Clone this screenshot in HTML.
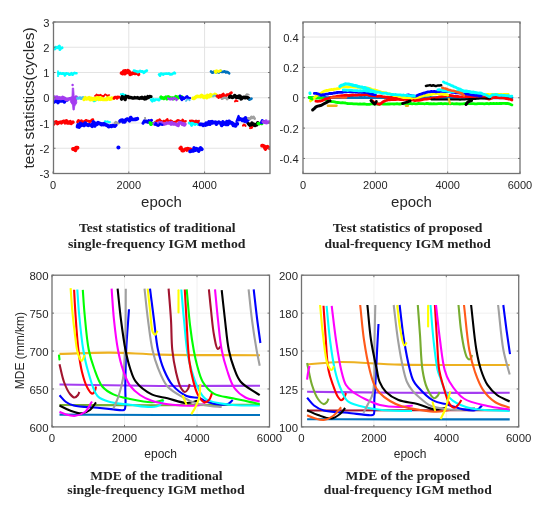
<!DOCTYPE html>
<html><head><meta charset="utf-8"><style>
html,body{margin:0;padding:0;background:#fff;width:550px;height:505px;overflow:hidden}
svg{display:block;will-change:transform}
</style></head><body>
<svg width="550" height="505" viewBox="0 0 550 505">
<rect width="550" height="505" fill="#fff"/>
<line x1="128.8" y1="22" x2="128.8" y2="173.5" stroke="#e3e3e3" stroke-width="1"/>
<line x1="204.6" y1="22" x2="204.6" y2="173.5" stroke="#e3e3e3" stroke-width="1"/>
<line x1="53.5" y1="47.25" x2="270" y2="47.25" stroke="#e3e3e3" stroke-width="1"/>
<line x1="53.5" y1="72.5" x2="270" y2="72.5" stroke="#e3e3e3" stroke-width="1"/>
<line x1="53.5" y1="97.75" x2="270" y2="97.75" stroke="#e3e3e3" stroke-width="1"/>
<line x1="53.5" y1="123.0" x2="270" y2="123.0" stroke="#e3e3e3" stroke-width="1"/>
<line x1="53.5" y1="148.25" x2="270" y2="148.25" stroke="#e3e3e3" stroke-width="1"/>
<clipPath id="c1"><rect x="53.5" y="22" width="216.5" height="151.5"/></clipPath>
<g clip-path="url(#c1)">
<polyline points="54.0,48.6 54.7,48.9 55.6,47.3 56.5,47.5 57.2,47.7 57.9,47.3 59.3,46.1 59.9,49.4 60.8,48.2 62.0,47.9" fill="none" stroke="#00ffff" stroke-width="3.0" stroke-linecap="round" stroke-linejoin="round"/>
<polyline points="58.5,73.2 59.2,73.8 59.9,73.0 61.0,73.6 61.8,73.6 62.9,73.4 64.2,73.6 64.9,75.5 66.1,73.3 67.2,73.8 68.3,73.6 69.4,74.8 70.3,74.6 71.4,73.2 72.6,74.7 73.4,73.4 74.6,72.9 75.3,73.3 76.5,73.3" fill="none" stroke="#00ffff" stroke-width="2.6" stroke-linecap="round" stroke-linejoin="round"/>
<line x1="58" y1="70.5" x2="58" y2="77" stroke="#00ffff" stroke-width="1.6"/>
<polyline points="121.5,73.1 122.5,73.5 123.8,71.2 124.7,73.7 125.4,70.9 126.2,71.2 127.0,72.5 127.9,70.6 129.1,71.7 130.2,74.4 131.4,73.9 132.6,73.0 133.8,73.1 134.4,73.3 135.0,73.5 135.8,72.8 137.1,73.3 137.8,72.7 138.5,74.2" fill="none" stroke="#ff0000" stroke-width="3.7" stroke-linecap="round" stroke-linejoin="round"/>
<polyline points="134.0,70.7 134.7,70.8 135.5,71.2 136.9,71.3 137.6,72.1 139.0,71.7 140.1,71.0 141.3,71.6 142.6,71.3 143.9,72.8 145.2,71.5 146.2,70.9 146.8,70.7" fill="none" stroke="#00ffff" stroke-width="2.8000000000000003" stroke-linecap="round" stroke-linejoin="round"/>
<polyline points="159.0,74.5 160.0,75.7 160.8,73.5 161.6,73.5 163.0,74.6 163.9,73.9 165.1,73.7 166.3,73.5 167.5,73.8 168.8,73.4 170.1,74.4 170.9,74.4 172.1,74.3 173.4,73.3 174.4,72.7 175.0,73.3" fill="none" stroke="#00ffff" stroke-width="2.6" stroke-linecap="round" stroke-linejoin="round"/>
<polyline points="211.0,71.5 212.3,72.6 213.1,72.6 214.2,71.6 215.5,72.0 216.5,72.5 217.8,71.6 218.9,72.6 219.6,71.9 220.8,70.9 221.9,72.0 222.9,72.0 223.9,71.6 224.8,71.4 226.0,72.5 226.9,71.8 228.1,72.5 229.1,73.3" fill="none" stroke="#0072bd" stroke-width="2.7" stroke-linecap="round" stroke-linejoin="round"/>
<polyline points="215.0,71.2 215.8,72.5 216.5,70.7 217.5,71.1 218.6,71.6 219.9,70.9 220.6,70.7" fill="none" stroke="#ffff00" stroke-width="2.7" stroke-linecap="round" stroke-linejoin="round"/>
<polyline points="54.0,102.3 55.0,101.5 56.3,100.3 57.1,101.6 58.0,102.7 58.9,100.9 59.8,100.5 61.2,101.2 62.6,100.8 63.8,100.8 64.5,102.1 65.3,99.2 66.6,100.1 67.3,100.1" fill="none" stroke="#0000ff" stroke-width="3.3000000000000003" stroke-linecap="round" stroke-linejoin="round"/>
<polyline points="53.5,98.9 54.7,97.2 56.0,98.2 56.9,97.0 58.2,98.3 59.0,98.3 59.8,97.8 60.6,98.6 61.4,98.3 62.0,98.3 62.7,97.4 63.6,98.3 64.3,98.0 65.6,99.1 66.6,99.6 67.9,99.1 69.0,98.9 69.7,98.8 70.9,98.4 72.1,99.0 73.3,98.5 74.2,98.7 75.2,99.8 76.2,97.1" fill="none" stroke="#a43cf0" stroke-width="3.5" stroke-linecap="round" stroke-linejoin="round"/>
<path d="M72.3,88 L73.6,88 L74.2,96 L76.5,99 L76.8,103 L74.8,106 L74.2,110 L73,110 L72.5,105 L70.5,102 L70.8,98 L72,96 Z" fill="#a43cf0" stroke="#a43cf0" stroke-width="0.8" stroke-linejoin="round"/>
<circle cx="72.6" cy="85" r="1.2" fill="#a43cf0"/>
<polyline points="77.5,98.3 78.4,98.3 79.4,97.9 80.2,97.9 81.1,98.5 81.9,98.1 82.9,97.7" fill="none" stroke="#4dbeee" stroke-width="3.1" stroke-linecap="round" stroke-linejoin="round"/>
<polyline points="93.0,99.4 93.9,101.2 95.0,100.9 96.2,99.9 97.5,99.4" fill="none" stroke="#00ffff" stroke-width="2.1" stroke-linecap="round" stroke-linejoin="round"/>
<polyline points="84.0,99.5 85.3,97.7 86.6,98.9 87.2,98.2 88.1,98.7 89.2,97.5 90.3,99.7 91.5,98.4 92.6,99.7 93.4,98.6 94.2,98.7 95.6,99.6 96.5,97.8 97.6,97.3 98.2,98.1 99.1,99.4 99.7,98.0 100.8,99.4 101.7,97.5 102.4,99.0 103.1,99.5 104.1,99.4 105.5,99.4 106.8,99.6 107.9,96.8 108.6,98.8 109.6,99.3 110.9,99.0 111.5,98.1 112.4,98.5 113.2,98.3" fill="none" stroke="#ffff00" stroke-width="3.5" stroke-linecap="round" stroke-linejoin="round"/>
<polyline points="95.0,95.8 95.7,95.5 96.5,94.4 97.4,95.2 98.4,95.1 99.0,95.4 100.4,94.7 101.2,95.3 102.5,95.9 103.8,96.4 104.8,94.6 105.5,94.4 106.6,95.2 107.2,95.6 108.1,95.3 109.3,95.0" fill="none" stroke="#ff0000" stroke-width="1.7" stroke-linecap="round" stroke-linejoin="round"/>
<polyline points="114.0,98.3 114.9,97.1 116.2,97.3 117.0,98.1 117.7,97.0 118.4,97.2 119.2,97.2" fill="none" stroke="#ff0000" stroke-width="2.9000000000000004" stroke-linecap="round" stroke-linejoin="round"/>
<polyline points="121.0,94.2 122.0,95.0 122.9,93.8 123.6,95.8 124.7,94.7 125.5,94.9" fill="none" stroke="#00ffff" stroke-width="2.1" stroke-linecap="round" stroke-linejoin="round"/>
<polyline points="121.5,99.2 122.1,96.6 123.3,97.3 123.9,98.2 125.2,99.5 126.0,96.3 126.7,97.1 127.9,96.4 129.1,97.7 130.4,97.5 131.7,97.6 132.5,98.2 133.7,98.1 134.7,97.5 135.5,97.9 136.5,97.8 137.6,97.5 138.4,98.1 139.6,98.5 140.7,97.7 141.5,98.2 142.1,97.3 143.1,98.2 144.3,98.9 145.0,97.3 145.8,98.7 147.0,98.0 147.8,96.6 148.7,97.4 149.6,96.5 151.0,96.6" fill="none" stroke="#000000" stroke-width="3.3000000000000003" stroke-linecap="round" stroke-linejoin="round"/>
<polyline points="151.0,99.6 152.3,101.2 153.2,99.2 154.5,100.5 155.4,99.5 156.3,99.5 157.2,99.5 157.9,99.7 159.1,100.2 160.1,98.4" fill="none" stroke="#00ffff" stroke-width="2.7" stroke-linecap="round" stroke-linejoin="round"/>
<polyline points="161.0,97.0 161.9,98.1 163.1,97.8 163.8,98.6 164.6,98.0 165.9,96.9 167.0,98.8 168.2,96.7 169.4,97.2 170.5,98.2 171.5,98.0 172.8,97.8 173.8,98.7 174.6,97.8 175.8,96.5 176.6,96.8 177.3,98.3 178.5,97.2 179.5,96.9 180.9,97.9 181.6,96.7" fill="none" stroke="#00ff00" stroke-width="3.3000000000000003" stroke-linecap="round" stroke-linejoin="round"/>
<polyline points="168.0,98.3 168.9,99.1 170.1,99.6 170.8,98.2 171.6,98.3 172.4,99.6 173.2,99.0 174.0,97.6 175.4,98.4 176.5,100.1 177.2,99.3" fill="none" stroke="#a43cf0" stroke-width="2.1" stroke-linecap="round" stroke-linejoin="round"/>
<polyline points="180.0,95.8 180.8,97.9 181.9,99.8 182.8,97.3 184.0,98.7 184.7,98.1 185.6,97.7 186.4,96.8 187.1,96.5 188.0,97.8 188.8,98.6 189.8,98.1" fill="none" stroke="#0000ff" stroke-width="2.7" stroke-linecap="round" stroke-linejoin="round"/>
<polyline points="186.0,101.0 186.7,100.0 187.5,99.5 188.9,99.5 189.8,100.3" fill="none" stroke="#4dbeee" stroke-width="1.7" stroke-linecap="round" stroke-linejoin="round"/>
<polyline points="193.0,98.4 193.8,98.6 195.1,97.7 196.4,96.6 197.1,96.2 198.4,96.6 199.5,96.4 200.4,96.7 201.7,95.3 203.1,96.4 203.8,97.5 204.4,97.1 205.3,96.2 206.1,96.2 206.8,97.6 207.6,95.3 208.5,96.0 209.3,96.7 210.6,94.7 211.3,95.6 212.0,95.2 212.8,95.6 213.9,95.3 214.8,94.3 215.9,94.9" fill="none" stroke="#ffff00" stroke-width="3.5" stroke-linecap="round" stroke-linejoin="round"/>
<polyline points="213.0,96.4 213.7,95.7 214.7,95.4 215.6,96.0 216.3,95.7" fill="none" stroke="#4dbeee" stroke-width="1.7" stroke-linecap="round" stroke-linejoin="round"/>
<polyline points="217.0,96.2 217.9,96.0 218.6,97.4 219.9,95.5 221.2,97.2 222.0,95.1 223.3,94.1 224.1,96.6 224.9,96.0 226.2,95.7 227.0,94.7 227.8,94.6 229.1,94.9 230.3,93.5 231.4,92.8" fill="none" stroke="#ff0000" stroke-width="2.9000000000000004" stroke-linecap="round" stroke-linejoin="round"/>
<polyline points="222.0,98.9 223.3,98.3 224.2,97.7 225.0,97.7 226.2,97.9 227.0,99.3 227.8,98.6" fill="none" stroke="#a0a0a0" stroke-width="2.3000000000000003" stroke-linecap="round" stroke-linejoin="round"/>
<polyline points="229.5,97.2 230.1,96.4 230.8,96.2 232.1,97.4 232.9,97.3 233.8,96.8 234.7,95.5 235.5,96.2 236.4,97.4 237.2,96.5 238.3,97.5 239.1,96.0 240.2,96.3 241.1,98.9 242.3,97.7 243.4,97.3 244.1,97.4 245.2,97.8 245.9,96.7 247.0,97.4 247.8,97.8 249.1,98.7" fill="none" stroke="#000000" stroke-width="3.5" stroke-linecap="round" stroke-linejoin="round"/>
<polyline points="235.0,101.4 236.0,100.2 236.9,101.1 237.6,101.1" fill="none" stroke="#ff0000" stroke-width="1.9000000000000001" stroke-linecap="round" stroke-linejoin="round"/>
<polyline points="246.0,95.2 246.8,94.0 247.8,94.3 248.9,94.7" fill="none" stroke="#a0a0a0" stroke-width="1.7" stroke-linecap="round" stroke-linejoin="round"/>
<polyline points="249.5,99.6 250.3,99.3 251.6,98.6" fill="none" stroke="#0072bd" stroke-width="2.5" stroke-linecap="round" stroke-linejoin="round"/>
<polyline points="53.5,124.2 54.8,122.4 56.2,121.7 57.5,123.6 58.7,122.5 59.5,122.5 60.8,122.1 61.5,122.8 62.2,121.8 62.8,121.6 64.0,121.2 65.1,122.8 66.4,120.8 67.7,123.0 68.4,122.1 69.1,123.0 70.3,121.7 71.2,123.4 71.9,122.9 72.9,122.1" fill="none" stroke="#ff0000" stroke-width="3.5" stroke-linecap="round" stroke-linejoin="round"/>
<polyline points="77.5,122.0 78.4,120.4 79.5,121.3 80.4,121.4 81.5,120.6 82.3,122.9 83.1,121.9 83.8,121.5 84.8,121.4 86.0,120.4 87.3,120.8 88.7,121.1 89.7,121.9 90.8,121.1 92.0,119.8 92.9,119.6" fill="none" stroke="#ff0000" stroke-width="2.7" stroke-linecap="round" stroke-linejoin="round"/>
<polyline points="77.5,126.7 78.1,124.9 79.1,127.0 80.4,123.5 81.6,125.2 82.7,124.5 84.0,125.4 85.2,123.1 86.3,124.7 87.2,124.6 88.1,125.4 89.4,124.8 90.2,125.0 91.0,125.2 92.1,126.2 93.5,121.9 94.7,125.9 95.7,123.6 96.5,123.5 97.1,124.2 98.1,122.7 99.1,123.1 100.2,123.8 101.2,124.5 102.0,123.8 103.3,124.5 104.4,123.5 105.4,124.7 106.3,125.0 107.5,125.5 108.5,126.6 109.4,126.4 110.5,125.9 111.4,126.4 112.5,125.7 113.7,125.7 114.7,126.1 115.9,125.0" fill="none" stroke="#0000ff" stroke-width="3.7" stroke-linecap="round" stroke-linejoin="round"/>
<polyline points="105.0,121.3 106.4,121.7 107.6,121.4 109.0,122.4 109.9,122.1" fill="none" stroke="#00ffff" stroke-width="2.1" stroke-linecap="round" stroke-linejoin="round"/>
<polyline points="115.0,122.9 115.8,122.2 117.0,122.8 118.2,123.1 119.0,122.9 120.1,121.5" fill="none" stroke="#a0a0a0" stroke-width="2.7" stroke-linecap="round" stroke-linejoin="round"/>
<polyline points="120.0,121.0 121.1,120.3 122.4,120.1 123.1,121.8 123.9,121.0 124.8,121.8 125.5,120.2 126.3,119.4 127.3,119.1 128.2,119.4 129.5,120.7 130.7,117.6 131.9,119.5 133.3,119.5 134.1,119.4 135.3,119.2 136.0,119.3 137.4,118.7" fill="none" stroke="#0000ff" stroke-width="3.7" stroke-linecap="round" stroke-linejoin="round"/>
<line x1="145" y1="117" x2="145.5" y2="123" stroke="#a0a0a0" stroke-width="1.8"/>
<polyline points="143.0,123.2 144.3,121.0 145.4,121.8 146.7,121.1 147.5,122.2 148.2,122.3 148.9,120.6 150.2,121.3 151.5,120.3" fill="none" stroke="#0000ff" stroke-width="3.1" stroke-linecap="round" stroke-linejoin="round"/>
<polyline points="150.0,122.7 150.9,124.5 152.0,123.5 153.1,123.8 154.5,123.0" fill="none" stroke="#00ff00" stroke-width="3.1" stroke-linecap="round" stroke-linejoin="round"/>
<polyline points="155.0,122.5 156.1,121.5 157.4,120.3 158.6,120.9 159.6,119.5 160.4,120.7 161.3,121.0 162.7,122.0 163.9,120.8 165.0,121.7 166.2,120.4 167.3,119.2 168.1,121.1 169.2,122.1 170.4,120.5 171.5,120.8 172.6,121.7 173.6,122.4 174.2,122.2 175.6,121.6 176.5,121.7 177.3,120.4 178.2,120.2 179.6,120.9 180.6,121.4 181.7,121.8 182.6,119.8 184.0,121.7 185.0,121.7 185.7,121.1" fill="none" stroke="#ff0000" stroke-width="2.3000000000000003" stroke-linecap="round" stroke-linejoin="round"/>
<polyline points="154.0,123.5 155.4,123.2 156.7,124.7 157.5,123.9 158.2,123.7 159.5,122.6 160.2,123.7 161.5,122.8 162.9,124.0 164.0,124.3 164.7,124.0 166.0,123.6 166.6,123.2 167.7,123.1 169.0,122.9 169.9,122.7 171.1,124.2 172.0,122.6 173.4,124.1 174.4,123.7 175.7,124.2 177.0,125.0 178.2,125.5 179.0,123.0 179.8,122.5 181.1,122.8 182.4,124.5 183.2,123.6 184.4,125.1 185.1,124.2" fill="none" stroke="#a43cf0" stroke-width="3.3000000000000003" stroke-linecap="round" stroke-linejoin="round"/>
<polyline points="155.0,124.8 155.8,123.2 156.9,125.1 158.1,125.8 159.1,125.2 159.9,123.7 161.2,124.5 162.3,124.9" fill="none" stroke="#0000ff" stroke-width="2.3000000000000003" stroke-linecap="round" stroke-linejoin="round"/>
<polyline points="189.5,122.9 190.6,122.3 191.6,125.3 192.5,123.4 193.6,123.6 194.4,123.9 195.1,124.3 196.1,122.6 196.9,121.3 198.1,124.3 199.4,123.7" fill="none" stroke="#00ffff" stroke-width="3.1" stroke-linecap="round" stroke-linejoin="round"/>
<polyline points="190.0,120.6 190.6,121.1 192.0,120.5 192.6,120.9 194.0,121.1 195.1,122.0 196.0,120.7 196.7,122.0 197.3,121.2 198.2,122.6 198.9,120.8" fill="none" stroke="#ff0000" stroke-width="2.1" stroke-linecap="round" stroke-linejoin="round"/>
<polyline points="200.0,124.5 200.7,124.4 202.1,124.3 203.3,125.3 204.1,124.5 204.9,124.2 205.6,125.1 206.3,123.2 207.7,124.4 209.0,121.9 209.9,124.2 211.1,121.9 211.9,121.7 212.6,122.8 213.3,122.4 214.6,122.4 215.5,122.2 216.4,124.1 217.4,122.8 218.8,122.1 220.1,122.8 220.9,123.3 221.7,125.4 223.0,122.0 223.8,124.0 224.7,123.7 225.3,123.3 225.9,124.4 226.9,121.7 227.7,124.4 228.4,123.4 229.1,121.3 229.8,122.1 230.6,122.9 231.7,122.7 232.4,123.2 233.3,125.3 234.2,124.5 235.5,125.9 236.5,124.1 237.3,123.9" fill="none" stroke="#0000ff" stroke-width="3.7" stroke-linecap="round" stroke-linejoin="round"/>
<polyline points="236.5,121.5 238.6,116 240,120" fill="none" stroke="#0000ff" stroke-width="2.2" stroke-linecap="round" stroke-linejoin="round"/>
<polyline points="239.0,119.6 240.1,118.8 241.1,119.4 242.3,120.4 243.4,119.2 244.6,121.0 245.6,118.0 246.7,121.8 247.4,119.8 248.1,119.6" fill="none" stroke="#0000ff" stroke-width="3.7" stroke-linecap="round" stroke-linejoin="round"/>
<polyline points="243.0,125.6 243.8,124.5 244.8,124.9 245.5,125.8" fill="none" stroke="#ff0000" stroke-width="2.1" stroke-linecap="round" stroke-linejoin="round"/>
<polyline points="248.5,118.3 249.5,118.8 250.2,118.9 251.5,116.8 252.2,117.8 253.6,116.9 254.6,118.7" fill="none" stroke="#a0a0a0" stroke-width="2.7" stroke-linecap="round" stroke-linejoin="round"/>
<polyline points="248.5,123.8 249.4,124.6 250.8,125.9 252.0,123.0 253.0,125.1 254.0,124.3 254.9,125.5 255.9,124.5 256.6,125.0 257.7,122.8" fill="none" stroke="#000000" stroke-width="3.5" stroke-linecap="round" stroke-linejoin="round"/>
<polyline points="250.0,128.2 250.8,127.5 251.6,128.1 252.4,127.0" fill="none" stroke="#ff0000" stroke-width="1.9000000000000001" stroke-linecap="round" stroke-linejoin="round"/>
<polyline points="258.0,123.6 259.1,123.9 260.2,123.2 261.2,123.7 261.9,123.7" fill="none" stroke="#00ff00" stroke-width="3.1" stroke-linecap="round" stroke-linejoin="round"/>
<polyline points="261.5,122.7 262.3,120.7 263.4,121.6 264.5,121.8" fill="none" stroke="#0000ff" stroke-width="3.1" stroke-linecap="round" stroke-linejoin="round"/>
<polyline points="263.0,121.7 264.0,122.2 265.0,122.6 266.1,120.9 266.8,122.9 267.8,122.3 269.1,121.7 269.7,122.0" fill="none" stroke="#a43cf0" stroke-width="3.1" stroke-linecap="round" stroke-linejoin="round"/>
<polyline points="73.0,149.0 74.2,148.8 75.4,150.2 76.2,147.8 77.5,147.8" fill="none" stroke="#ff0000" stroke-width="3.9000000000000004" stroke-linecap="round" stroke-linejoin="round"/>
<circle cx="118.4" cy="147.4" r="2.0" fill="#0000ff"/>
<polyline points="180.0,148.4 181.0,147.2 182.1,150.7 182.8,150.9 183.8,150.7 184.8,149.2 186.1,148.7 187.0,150.2 187.9,148.4 188.7,149.1 190.0,148.9 190.8,149.3" fill="none" stroke="#ff0000" stroke-width="3.3000000000000003" stroke-linecap="round" stroke-linejoin="round"/>
<polyline points="190.0,151.4 190.9,151.1 192.1,150.8 193.5,150.9 194.1,148.0 195.3,150.1 196.7,148.7 197.6,149.8 198.7,151.1 199.7,148.8 200.6,148.0 201.9,149.3" fill="none" stroke="#0000ff" stroke-width="3.7" stroke-linecap="round" stroke-linejoin="round"/>
<polyline points="262.0,145.7 262.9,145.7 264.1,146.2 265.4,149.0 266.1,147.0 267.5,146.7 268.4,147.4 269.4,148.1" fill="none" stroke="#ff0000" stroke-width="3.7" stroke-linecap="round" stroke-linejoin="round"/>
</g>
<rect x="53.5" y="22" width="216.5" height="151.5" fill="none" stroke="#727272" stroke-width="1.3"/>
<line x1="53.0" y1="173.5" x2="53.0" y2="171.5" stroke="#727272" stroke-width="1"/>
<line x1="53.0" y1="22" x2="53.0" y2="24.0" stroke="#727272" stroke-width="1"/>
<line x1="128.8" y1="173.5" x2="128.8" y2="171.5" stroke="#727272" stroke-width="1"/>
<line x1="128.8" y1="22" x2="128.8" y2="24.0" stroke="#727272" stroke-width="1"/>
<line x1="204.6" y1="173.5" x2="204.6" y2="171.5" stroke="#727272" stroke-width="1"/>
<line x1="204.6" y1="22" x2="204.6" y2="24.0" stroke="#727272" stroke-width="1"/>
<line x1="53.5" y1="22.0" x2="55.5" y2="22.0" stroke="#727272" stroke-width="1"/>
<line x1="270" y1="22.0" x2="268.0" y2="22.0" stroke="#727272" stroke-width="1"/>
<line x1="53.5" y1="47.25" x2="55.5" y2="47.25" stroke="#727272" stroke-width="1"/>
<line x1="270" y1="47.25" x2="268.0" y2="47.25" stroke="#727272" stroke-width="1"/>
<line x1="53.5" y1="72.5" x2="55.5" y2="72.5" stroke="#727272" stroke-width="1"/>
<line x1="270" y1="72.5" x2="268.0" y2="72.5" stroke="#727272" stroke-width="1"/>
<line x1="53.5" y1="97.75" x2="55.5" y2="97.75" stroke="#727272" stroke-width="1"/>
<line x1="270" y1="97.75" x2="268.0" y2="97.75" stroke="#727272" stroke-width="1"/>
<line x1="53.5" y1="123.0" x2="55.5" y2="123.0" stroke="#727272" stroke-width="1"/>
<line x1="270" y1="123.0" x2="268.0" y2="123.0" stroke="#727272" stroke-width="1"/>
<line x1="53.5" y1="148.25" x2="55.5" y2="148.25" stroke="#727272" stroke-width="1"/>
<line x1="270" y1="148.25" x2="268.0" y2="148.25" stroke="#727272" stroke-width="1"/>
<line x1="53.5" y1="173.5" x2="55.5" y2="173.5" stroke="#727272" stroke-width="1"/>
<line x1="270" y1="173.5" x2="268.0" y2="173.5" stroke="#727272" stroke-width="1"/>
<text x="53.0" y="188.6" font-family="'Liberation Sans', sans-serif" font-size="11" font-weight="normal" fill="#262626" text-anchor="middle">0</text>
<text x="128.8" y="188.6" font-family="'Liberation Sans', sans-serif" font-size="11" font-weight="normal" fill="#262626" text-anchor="middle">2000</text>
<text x="204.6" y="188.6" font-family="'Liberation Sans', sans-serif" font-size="11" font-weight="normal" fill="#262626" text-anchor="middle">4000</text>
<text x="49.5" y="26.6" font-family="'Liberation Sans', sans-serif" font-size="11.2" font-weight="normal" fill="#262626" text-anchor="end">3</text>
<text x="49.5" y="51.85" font-family="'Liberation Sans', sans-serif" font-size="11.2" font-weight="normal" fill="#262626" text-anchor="end">2</text>
<text x="49.5" y="77.1" font-family="'Liberation Sans', sans-serif" font-size="11.2" font-weight="normal" fill="#262626" text-anchor="end">1</text>
<text x="49.5" y="102.35" font-family="'Liberation Sans', sans-serif" font-size="11.2" font-weight="normal" fill="#262626" text-anchor="end">0</text>
<text x="49.5" y="127.6" font-family="'Liberation Sans', sans-serif" font-size="11.2" font-weight="normal" fill="#262626" text-anchor="end">-1</text>
<text x="49.5" y="152.85" font-family="'Liberation Sans', sans-serif" font-size="11.2" font-weight="normal" fill="#262626" text-anchor="end">-2</text>
<text x="49.5" y="178.1" font-family="'Liberation Sans', sans-serif" font-size="11.2" font-weight="normal" fill="#262626" text-anchor="end">-3</text>
<text x="33.6" y="98" font-family="'Liberation Sans', sans-serif" font-size="15.4" font-weight="normal" fill="#262626" text-anchor="middle" transform="rotate(-90 33.6 98)">test statistics(cycles)</text>
<text x="161.5" y="207.2" font-family="'Liberation Sans', sans-serif" font-size="15" font-weight="normal" fill="#262626" text-anchor="middle">epoch</text>
<line x1="375.3333333333333" y1="22" x2="375.3333333333333" y2="173.5" stroke="#e3e3e3" stroke-width="1"/>
<line x1="447.66666666666663" y1="22" x2="447.66666666666663" y2="173.5" stroke="#e3e3e3" stroke-width="1"/>
<line x1="303" y1="37.05" x2="520" y2="37.05" stroke="#e3e3e3" stroke-width="1"/>
<line x1="303" y1="67.4" x2="520" y2="67.4" stroke="#e3e3e3" stroke-width="1"/>
<line x1="303" y1="97.75" x2="520" y2="97.75" stroke="#e3e3e3" stroke-width="1"/>
<line x1="303" y1="128.1" x2="520" y2="128.1" stroke="#e3e3e3" stroke-width="1"/>
<line x1="303" y1="158.45" x2="520" y2="158.45" stroke="#e3e3e3" stroke-width="1"/>
<path d="M309.0,97.6 L310.5,97.6 L312.0,97.6 L313.5,97.7 L315.0,97.6 L316.5,97.5 L318.0,97.6 L319.5,97.7 L321.0,97.5 L322.5,97.7 L324.0,97.5 L325.5,97.5 L327.0,97.7 L328.5,97.6 L330.0,97.7 L331.5,97.5 L333.0,97.6 L334.5,97.6 L336.0,97.5 L337.5,97.6 L339.0,97.6 L340.5,97.7 L342.0,97.6 L343.5,97.6 L345.0,97.5 L346.5,97.5 L348.0,97.7 L349.5,97.5 L351.0,97.5 L352.5,97.5 L354.0,97.6 L355.5,97.7 L357.0,97.6 L358.5,97.7 L360.0,97.5 L361.5,97.5 L363.0,97.7 L364.5,97.5 L366.0,97.7 L367.5,97.6 L369.0,97.5 L370.5,97.5 L372.0,97.5 L373.5,97.7 L375.0,97.6 L376.5,97.6 L378.0,97.6 L379.5,97.6 L381.0,97.5 L382.5,97.7 L384.0,97.6 L385.5,97.7 L387.0,97.6 L388.5,97.6 L390.0,97.5 L391.5,97.5 L393.0,97.7 L394.5,97.7 L396.0,97.5 L397.5,97.7 L399.0,97.7 L400.5,97.5 L402.0,97.6 L403.5,97.7 L405.0,97.6 L406.5,97.7 L408.0,97.5 L409.5,97.6 L411.0,97.7 L412.5,97.5 L414.0,97.5 L415.5,97.7 L417.0,97.6 L418.5,97.7 L420.0,97.5 L421.5,97.5 L423.0,97.6 L424.5,97.5 L426.0,97.8 L427.5,97.6 L429.0,97.6 L430.6,97.5 L432.1,97.6 L433.6,97.6 L435.1,97.6 L436.6,97.5 L438.1,97.5 L439.6,97.7 L441.1,97.6 L442.6,97.6 L444.1,97.6 L445.6,97.6 L447.1,97.6 L448.7,97.5 L450.2,97.7 L451.7,97.6 L453.2,97.6 L454.7,97.7 L456.2,97.6 L457.7,97.6 L459.2,97.8 L460.7,97.6 L462.2,97.7 L463.7,97.8 L465.2,97.8 L466.8,97.6 L468.3,97.7 L469.8,97.8 L471.3,97.7 L472.8,97.9 L474.3,97.6 L475.8,97.9 L477.3,97.7 L478.8,97.6 L480.3,97.7 L481.8,97.6 L483.3,97.8 L484.9,97.7 L486.4,97.9 L487.9,97.8 L489.4,97.7 L490.9,97.7 L492.4,97.8 L493.9,97.7 L495.4,97.9 L496.9,97.7 L498.4,97.8 L499.9,97.8 L501.4,97.7 L503.0,97.9 L504.5,97.7 L506.0,97.8 L507.5,97.8 L509.0,97.7 L510.5,97.8 L512.0,97.8" fill="none" stroke="#0072bd" stroke-width="2.8" stroke-linecap="round" stroke-linejoin="round"/>
<path d="M309.4,97.4 L310.9,97.5 L312.4,97.9 L313.9,97.7 L315.4,98.0 L316.9,97.8 L318.4,98.1 L319.9,98.1 L321.4,98.2 L323.1,98.7 L324.8,99.3 L326.6,100.0 L328.3,100.6 L330.0,101.2 L331.6,101.7 L333.1,101.7 L334.6,101.9 L336.2,102.3 L337.8,102.5 L339.3,102.7 L340.9,102.9 L342.4,102.7 L344.0,102.9 L345.5,103.0 L347.1,103.5 L348.6,103.7 L350.2,103.6 L351.9,103.7 L353.5,103.9 L355.2,103.9 L356.8,103.8 L358.4,104.1 L360.1,103.9 L361.7,104.1 L363.4,104.0 L365.0,104.0 L366.5,104.4 L368.1,104.3 L369.6,104.3 L371.1,103.9 L372.6,103.9 L374.2,103.9 L375.7,103.9 L377.2,104.0 L378.8,104.0 L380.3,103.8 L381.8,103.9 L383.3,104.1 L384.9,103.8 L386.4,104.1 L387.9,104.0 L389.4,104.0 L391.0,103.8 L392.5,103.9 L394.0,104.0 L395.6,103.8 L397.1,103.6 L398.6,104.0 L400.1,104.0 L401.7,103.7 L403.2,103.6 L404.7,103.9 L406.2,103.8 L407.8,103.5 L409.3,103.6 L410.8,103.5 L412.4,103.8 L413.9,103.5 L415.4,103.9 L416.9,103.8 L418.5,103.4 L420.0,103.7 L421.5,103.6 L423.1,103.7 L424.6,103.8 L426.1,103.5 L427.6,103.4 L429.2,103.9 L430.7,103.6 L432.2,103.9 L433.8,103.7 L435.3,103.8 L436.8,103.8 L438.3,103.7 L439.9,103.6 L441.4,103.5 L442.9,103.8 L444.4,103.7 L446.0,103.7 L447.5,103.9 L449.0,103.5 L450.6,103.8 L452.1,103.5 L453.6,103.8 L455.1,103.9 L456.7,103.6 L458.2,103.8 L459.7,104.0 L461.2,103.8 L462.8,103.8 L464.3,103.6 L465.8,103.5 L467.4,103.7 L468.9,103.7 L470.4,103.6 L471.9,103.7 L473.5,103.6 L475.0,103.9 L476.5,103.9 L478.1,103.6 L479.6,103.6 L481.2,103.7 L482.7,103.7 L484.3,103.9 L485.8,103.6 L487.4,103.5 L488.9,103.8 L490.5,103.4 L492.0,103.6 L493.6,103.4 L495.1,103.6 L496.7,103.5 L498.2,103.6 L499.8,103.3 L501.3,103.5 L502.9,103.4 L504.4,103.3 L506.0,103.5 L507.5,103.5 L509.7,103.9 L511.9,104.9" fill="none" stroke="#00ff00" stroke-width="2.8" stroke-linecap="round" stroke-linejoin="round"/>
<path d="M327.9,105.7 L329.6,105.7 L331.4,105.7 L333.1,105.6 L334.9,105.7 L336.6,105.8" fill="none" stroke="#edb120" stroke-width="2.4" stroke-linecap="round" stroke-linejoin="round"/>
<path d="M312.6,110.0 L314.2,108.7 L315.9,106.9 L317.7,106.1 L319.6,105.7 L321.4,105.3 L323.1,104.3 L324.8,103.3 L326.6,102.4 L328.3,101.4 L330.0,100.9" fill="none" stroke="#000000" stroke-width="3.0" stroke-linecap="round" stroke-linejoin="round"/>
<path d="M315.9,101.2 L317.5,101.3 L319.2,101.2 L320.7,101.0 L322.2,100.6 L323.8,99.8 L325.3,99.0 L326.8,98.7 L328.4,98.3 L329.9,97.7 L331.5,97.6 L333.0,96.9 L334.6,97.0 L336.1,96.5 L337.7,96.1 L339.2,96.2 L340.7,95.9 L342.2,95.6 L343.8,95.5 L345.3,95.3 L346.8,95.2 L348.3,95.5 L349.8,95.5 L351.4,95.1 L352.9,94.9 L354.4,95.1 L355.9,95.1 L357.4,95.1 L358.9,94.6 L360.4,94.8 L362.0,94.8 L363.5,94.6 L365.0,94.3 L367.0,94.5 L368.9,95.3 L370.9,95.3 L372.5,95.5 L374.2,95.8 L375.8,95.8 L377.5,96.3 L379.1,96.1 L380.7,96.1 L382.4,96.6 L384.0,96.8 L385.7,97.1 L387.3,97.2 L388.9,97.5 L390.6,97.6 L392.2,97.4 L393.8,97.5 L395.5,97.4 L397.1,97.6 L398.7,97.9 L400.3,97.7 L402.0,98.2 L403.6,98.0 L405.2,98.5 L406.9,99.1 L408.5,98.9 L410.1,99.2 L411.7,99.8 L413.4,100.0 L415.0,100.6 L416.6,100.0 L418.3,100.3 L419.9,100.1 L421.6,99.8 L423.2,99.4 L424.8,99.1 L426.5,99.1 L428.1,98.8 L429.8,98.6 L431.4,98.3 L433.0,98.1 L434.7,97.9 L436.3,97.8 L437.9,97.5 L439.5,96.8 L441.2,96.6 L442.8,96.4 L444.4,96.2 L446.1,95.8 L447.7,95.4 L449.3,95.5 L451.0,95.7 L452.6,95.9 L454.2,96.3 L455.9,96.4 L457.5,96.5 L459.1,96.7 L460.7,96.8 L462.4,96.7 L464.0,96.9 L465.6,96.4 L467.2,96.7 L468.7,96.6 L470.3,96.4 L471.9,96.5 L473.5,96.7 L475.1,96.4 L476.7,96.4 L478.2,96.2 L479.8,96.2 L481.4,96.4 L482.9,96.6 L484.4,97.3 L486.0,98.2 L487.5,98.7 L489.0,99.2 L491.2,98.4 L493.4,97.2 L495.0,97.5 L496.6,97.5 L498.3,97.7 L499.9,97.9 L501.5,97.9 L503.1,97.9 L504.8,98.1 L506.4,98.6 L508.2,99.0 L510.1,99.2 L511.9,100.0" fill="none" stroke="#ff0000" stroke-width="2.8" stroke-linecap="round" stroke-linejoin="round"/>
<path d="M431.4,99.5 L432.9,99.4 L434.4,99.3 L435.9,99.4 L437.4,99.4 L438.9,99.5 L440.4,99.5 L441.9,99.4 L443.4,99.5 L444.9,99.4 L446.5,99.5 L448.0,99.5 L449.5,99.4 L451.0,99.5 L452.5,99.5 L454.0,99.5 L455.5,99.6 L457.0,99.6 L458.5,99.6 L460.0,99.7 L461.5,99.5 L463.1,99.6 L464.6,99.4 L466.1,99.2 L467.6,99.3 L469.2,99.1 L470.7,99.0 L472.2,99.1 L473.8,99.0 L475.3,98.9 L476.8,98.7 L478.3,98.8 L479.9,98.6 L481.4,98.5 L483.1,98.6 L484.8,98.5 L486.6,98.6 L488.3,98.5 L490.0,98.5" fill="none" stroke="#000000" stroke-width="2.0" stroke-linecap="round" stroke-linejoin="round"/>
<path d="M372.0,100.4 L374.2,102.6 L376.0,103.0 L377.8,103.9 L379.6,104.3 L381.4,103.2 L383.3,101.7 L385.1,100.7 L386.6,100.4 L388.1,99.8 L389.7,99.9 L391.2,99.4 L392.7,99.5 L394.2,99.4 L395.7,99.6 L397.2,99.2 L398.8,99.3 L400.3,99.6 L401.8,99.7 L403.3,99.6 L404.8,99.2 L406.4,99.6 L407.9,99.3 L409.4,99.6 L410.9,99.8 L412.4,99.4 L413.9,99.9 L415.4,99.8 L417.0,99.6 L418.5,99.6 L420.0,99.8" fill="none" stroke="#ff0000" stroke-width="2.8" stroke-linecap="round" stroke-linejoin="round"/>
<path d="M310.5,100.9 L312.3,99.7 L314.1,98.0 L315.9,96.2 L317.6,95.1 L319.4,94.0 L321.1,93.4 L322.9,91.9 L324.6,91.0 L326.2,90.5 L327.9,90.5 L329.5,89.9 L331.1,89.5 L332.8,89.6 L334.4,89.1 L336.1,88.9 L337.7,88.6 L339.4,88.3 L341.0,87.2 L342.6,87.0 L344.3,86.5 L345.8,86.7 L347.4,87.0 L348.9,87.0 L350.4,86.5 L351.9,86.7 L353.5,87.2 L355.0,87.1 L356.5,87.1 L358.0,87.3 L359.6,87.2 L361.1,87.9 L362.6,87.7 L364.1,88.2 L365.7,88.2 L367.2,87.9 L368.7,88.3 L370.3,88.7 L372.0,89.6 L373.6,89.9 L375.2,90.0 L376.9,90.5 L378.5,91.2 L380.2,91.7 L381.8,92.3 L383.4,92.5 L384.9,92.9 L386.5,93.0 L388.0,93.8 L389.6,94.0 L391.1,94.2 L392.7,94.9 L394.3,95.6 L395.8,95.4 L397.4,95.8 L398.9,96.6 L400.5,96.7 L402.0,97.1 L403.6,97.6 L405.2,97.5 L406.9,97.7 L408.5,97.7 L410.1,98.0 L411.7,98.1 L413.4,97.4 L415.0,97.8 L416.6,97.6 L418.1,97.3 L419.7,96.8 L421.2,96.4 L422.8,96.0 L424.3,95.4 L425.9,94.9 L427.5,95.1 L429.0,94.9 L430.6,94.7 L432.1,94.3 L433.7,93.7 L435.2,93.8 L436.8,93.6 L438.4,93.6 L439.9,94.0 L441.5,94.0 L443.0,94.4 L444.6,94.5 L446.1,94.5 L447.7,95.1" fill="none" stroke="#ffff00" stroke-width="2.8" stroke-linecap="round" stroke-linejoin="round"/>
<path d="M486.8,94.0 L488.4,94.0 L489.9,94.1 L491.5,94.0 L493.0,94.0 L494.6,93.9 L496.1,93.9 L497.7,94.0 L499.3,93.9 L500.8,93.9 L502.4,94.1 L503.9,94.0 L505.5,94.0 L507.0,94.0 L508.6,94.0" fill="none" stroke="#ffff00" stroke-width="1.8" stroke-linecap="round" stroke-linejoin="round"/>
<path d="M331.2,97.6 L332.7,97.5 L334.2,97.5 L335.8,97.6 L337.3,97.6 L338.8,97.6 L340.3,97.6 L341.8,97.7 L343.4,97.6 L344.9,97.7 L346.4,97.6" fill="none" stroke="#ff5a1a" stroke-width="2.0" stroke-linecap="round" stroke-linejoin="round"/>
<path d="M314.3,93.4 L316.1,93.4 L317.9,93.9 L319.6,94.5 L321.4,95.2 L323.0,94.6 L324.5,94.6 L326.1,94.2 L327.6,94.2 L329.2,93.5 L330.7,93.5 L332.3,93.5 L333.9,93.0 L335.6,92.8 L337.2,92.5 L338.8,92.4 L340.5,92.3 L342.1,92.4 L343.7,91.9 L345.3,91.9 L347.0,91.6 L348.6,91.7 L350.2,91.9 L351.9,91.8 L353.5,91.6 L355.2,92.0 L356.8,92.2 L358.4,92.0 L360.1,91.8 L361.7,92.3 L363.4,92.4 L365.0,92.1 L366.7,92.4 L368.4,92.9 L370.1,93.6 L371.9,94.2 L373.6,94.5 L375.3,94.9" fill="none" stroke="#0000ff" stroke-width="2.8" stroke-linecap="round" stroke-linejoin="round"/>
<path d="M406.9,95.2 L408.5,95.0 L410.1,95.3 L411.8,95.8 L413.4,96.0 L415.0,96.1 L416.6,95.8 L418.3,95.0 L419.9,94.3 L421.6,93.9 L423.2,93.2 L424.8,93.0 L426.5,92.3 L428.1,91.8 L429.7,91.8 L431.3,91.5 L432.8,91.6 L434.4,91.3 L436.0,91.8 L437.6,91.5 L439.1,91.7 L440.7,91.1 L442.3,91.4 L443.9,91.6 L445.6,91.5 L447.2,91.5 L448.8,91.7 L450.5,91.9 L452.1,92.4 L453.7,92.2 L455.3,92.8 L457.0,92.7 L458.6,92.9 L460.2,93.2 L461.9,93.4 L463.5,93.7 L465.2,93.8 L466.8,93.9 L468.4,94.4 L470.1,94.3 L471.7,94.8 L473.4,95.0 L475.0,95.3 L476.6,95.1 L478.2,95.5 L479.8,95.8 L481.4,95.6" fill="none" stroke="#0000ff" stroke-width="2.8" stroke-linecap="round" stroke-linejoin="round"/>
<path d="M343.2,90.0 L344.8,89.9 L346.3,90.2 L347.9,90.5 L349.4,90.1 L351.0,90.1 L352.5,90.4 L354.1,90.6 L355.7,90.7 L357.2,90.6 L358.8,91.0 L360.3,90.6 L361.9,91.0 L363.4,90.7 L365.0,90.7 L366.6,91.0 L368.3,91.1 L369.9,91.5 L371.5,91.7 L373.1,91.7 L374.8,92.3 L376.4,92.1 L378.0,92.2 L379.7,92.4 L381.3,93.0 L382.9,93.3 L384.5,93.1 L386.2,93.2 L387.8,93.9 L389.4,93.8 L391.1,94.5 L392.7,94.4 L394.3,94.6 L395.8,94.5 L397.4,94.9 L398.9,94.8 L400.5,94.9 L402.0,95.3 L403.6,95.0 L405.2,95.5 L406.7,95.2 L408.3,95.6 L409.8,95.6 L411.4,96.0 L412.9,95.6 L414.5,96.0" fill="none" stroke="#00ffff" stroke-width="2.8" stroke-linecap="round" stroke-linejoin="round"/>
<path d="M339.9,86.3 L341.7,85.2 L343.5,84.7 L345.3,83.9 L346.9,84.0 L348.6,84.1 L350.2,84.5 L351.9,84.9 L353.5,85.4 L355.2,85.6 L356.8,85.9 L358.4,86.7 L360.1,86.9 L361.7,87.0 L363.4,87.9 L365.0,87.6 L366.6,88.5 L368.3,88.8 L369.9,90.0 L371.5,90.6 L373.1,90.8 L374.8,91.8 L376.4,92.2" fill="none" stroke="#00ffff" stroke-width="3.1999999999999997" stroke-linecap="round" stroke-linejoin="round"/>
<path d="M437.9,89.8 L439.4,89.7 L440.9,90.0 L442.4,90.3 L443.9,90.8 L445.5,90.6 L447.0,91.1 L448.5,91.3 L450.0,91.5 L451.5,91.5 L453.0,91.7 L454.5,91.3 L456.0,91.7 L457.5,91.3 L459.0,91.5 L460.5,91.6 L462.0,91.1 L463.5,91.5 L465.0,91.6 L466.6,91.4 L468.3,91.4 L469.9,91.7 L471.6,92.4 L473.2,92.1 L474.8,92.8 L476.5,92.6 L478.1,93.1 L479.8,92.9 L481.4,93.2 L483.1,94.2 L484.9,94.5 L486.6,95.3 L488.4,96.3 L490.1,96.8 L492.3,94.7 L493.8,94.9 L495.3,94.5 L496.8,94.7 L498.3,95.2 L499.8,95.3 L501.3,95.0 L502.9,95.4 L504.4,95.4 L505.9,95.6 L507.4,95.6 L508.9,95.7 L510.4,96.4 L511.9,96.2" fill="none" stroke="#00ffff" stroke-width="2.8" stroke-linecap="round" stroke-linejoin="round"/>
<path d="M443.4,81.9 L444.9,82.9 L446.4,83.1 L447.9,84.0 L449.4,84.5 L450.9,85.3 L452.4,85.8 L454.0,86.8 L455.5,87.1 L457.0,88.2 L458.5,88.7 L460.0,89.1 L461.5,89.9 L463.0,90.7 L464.5,91.2 L466.0,91.0 L467.5,91.2 L469.0,91.8 L470.5,92.0 L472.0,92.1 L473.5,92.1 L475.0,92.4" fill="none" stroke="#00ffff" stroke-width="2.8" stroke-linecap="round" stroke-linejoin="round"/>
<path d="M442.3,87.8 L443.8,88.3 L445.3,88.6 L446.8,89.0 L448.3,89.7 L449.8,90.0 L451.3,90.5 L452.9,90.8 L454.4,91.1 L455.9,91.8 L457.4,92.2 L458.9,92.6 L460.4,93.0 L461.9,93.5 L464.0,95.5" fill="none" stroke="#ff5a1a" stroke-width="2.5999999999999996" stroke-linecap="round" stroke-linejoin="round"/>
<path d="M370.9,100.6 L372.8,102.4 L374.7,104.3 L376.4,101.4" fill="none" stroke="#000000" stroke-width="2.8" stroke-linecap="round" stroke-linejoin="round"/>
<path d="M402.5,103.6 L404.0,103.0 L405.6,102.5 L407.1,102.2 L408.7,101.4 L410.2,100.9" fill="none" stroke="#000000" stroke-width="2.8" stroke-linecap="round" stroke-linejoin="round"/>
<path d="M425.9,85.9 L427.9,85.6 L430.0,85.1 L431.7,85.8 L433.3,85.3 L435.0,85.9 L436.6,85.9 L438.1,85.4 L439.6,85.5 L441.2,85.3" fill="none" stroke="#000000" stroke-width="2.5" stroke-linecap="round" stroke-linejoin="round"/>
<path d="M466.1,104.4 L468.0,101.9 L469.8,101.1 L471.5,100.5" fill="none" stroke="#000000" stroke-width="3.1999999999999997" stroke-linecap="round" stroke-linejoin="round"/>
<path d="M448.8,98.8 L449.9,103.3" fill="none" stroke="#edb120" stroke-width="2.2" stroke-linecap="round" stroke-linejoin="round"/>
<path d="M406.0,105.9 L408.0,105.8" fill="none" stroke="#edb120" stroke-width="2.2" stroke-linecap="round" stroke-linejoin="round"/>
<path d="M309.4,97.7 L312.0,99.0" fill="none" stroke="#00ff00" stroke-width="2.8" stroke-linecap="round" stroke-linejoin="round"/>
<path d="M309.9,93.0 L310.0,93.5" fill="none" stroke="#00ffff" stroke-width="3" stroke-linecap="round" stroke-linejoin="round"/>
<rect x="303" y="22" width="217" height="151.5" fill="none" stroke="#727272" stroke-width="1.3"/>
<line x1="303.0" y1="173.5" x2="303.0" y2="171.5" stroke="#727272" stroke-width="1"/>
<line x1="303.0" y1="22" x2="303.0" y2="24.0" stroke="#727272" stroke-width="1"/>
<line x1="375.3333333333333" y1="173.5" x2="375.3333333333333" y2="171.5" stroke="#727272" stroke-width="1"/>
<line x1="375.3333333333333" y1="22" x2="375.3333333333333" y2="24.0" stroke="#727272" stroke-width="1"/>
<line x1="447.66666666666663" y1="173.5" x2="447.66666666666663" y2="171.5" stroke="#727272" stroke-width="1"/>
<line x1="447.66666666666663" y1="22" x2="447.66666666666663" y2="24.0" stroke="#727272" stroke-width="1"/>
<line x1="520.0" y1="173.5" x2="520.0" y2="171.5" stroke="#727272" stroke-width="1"/>
<line x1="520.0" y1="22" x2="520.0" y2="24.0" stroke="#727272" stroke-width="1"/>
<line x1="303" y1="37.05" x2="305.0" y2="37.05" stroke="#727272" stroke-width="1"/>
<line x1="520" y1="37.05" x2="518.0" y2="37.05" stroke="#727272" stroke-width="1"/>
<line x1="303" y1="67.4" x2="305.0" y2="67.4" stroke="#727272" stroke-width="1"/>
<line x1="520" y1="67.4" x2="518.0" y2="67.4" stroke="#727272" stroke-width="1"/>
<line x1="303" y1="97.75" x2="305.0" y2="97.75" stroke="#727272" stroke-width="1"/>
<line x1="520" y1="97.75" x2="518.0" y2="97.75" stroke="#727272" stroke-width="1"/>
<line x1="303" y1="128.1" x2="305.0" y2="128.1" stroke="#727272" stroke-width="1"/>
<line x1="520" y1="128.1" x2="518.0" y2="128.1" stroke="#727272" stroke-width="1"/>
<line x1="303" y1="158.45" x2="305.0" y2="158.45" stroke="#727272" stroke-width="1"/>
<line x1="520" y1="158.45" x2="518.0" y2="158.45" stroke="#727272" stroke-width="1"/>
<text x="303.0" y="188.6" font-family="'Liberation Sans', sans-serif" font-size="11" font-weight="normal" fill="#262626" text-anchor="middle">0</text>
<text x="375.33" y="188.6" font-family="'Liberation Sans', sans-serif" font-size="11" font-weight="normal" fill="#262626" text-anchor="middle">2000</text>
<text x="447.67" y="188.6" font-family="'Liberation Sans', sans-serif" font-size="11" font-weight="normal" fill="#262626" text-anchor="middle">4000</text>
<text x="520.0" y="188.6" font-family="'Liberation Sans', sans-serif" font-size="11" font-weight="normal" fill="#262626" text-anchor="middle">6000</text>
<text x="298.7" y="41.65" font-family="'Liberation Sans', sans-serif" font-size="11.2" font-weight="normal" fill="#262626" text-anchor="end">0.4</text>
<text x="298.7" y="72.0" font-family="'Liberation Sans', sans-serif" font-size="11.2" font-weight="normal" fill="#262626" text-anchor="end">0.2</text>
<text x="298.7" y="102.35" font-family="'Liberation Sans', sans-serif" font-size="11.2" font-weight="normal" fill="#262626" text-anchor="end">0</text>
<text x="298.7" y="132.7" font-family="'Liberation Sans', sans-serif" font-size="11.2" font-weight="normal" fill="#262626" text-anchor="end">-0.2</text>
<text x="298.7" y="163.05" font-family="'Liberation Sans', sans-serif" font-size="11.2" font-weight="normal" fill="#262626" text-anchor="end">-0.4</text>
<text x="411.5" y="207.2" font-family="'Liberation Sans', sans-serif" font-size="15" font-weight="normal" fill="#262626" text-anchor="middle">epoch</text>
<line x1="124.5" y1="275.2" x2="124.5" y2="426.9" stroke="#f0f0f0" stroke-width="1"/>
<line x1="197.0" y1="275.2" x2="197.0" y2="426.9" stroke="#f0f0f0" stroke-width="1"/>
<line x1="52" y1="313.125" x2="269.5" y2="313.125" stroke="#f0f0f0" stroke-width="1"/>
<line x1="52" y1="351.04999999999995" x2="269.5" y2="351.04999999999995" stroke="#f0f0f0" stroke-width="1"/>
<line x1="52" y1="388.97499999999997" x2="269.5" y2="388.97499999999997" stroke="#f0f0f0" stroke-width="1"/>
<path d="M59.50,414.60 C93.00,414.73 126.54,414.93 160.00,415.00 C193.37,415.07 226.67,415.00 260.00,415.00" fill="none" stroke="#0072bd" stroke-width="2.1" stroke-linecap="butt" stroke-linejoin="round"/>
<path d="M59.50,405.00 C93.00,405.10 126.54,405.35 160.00,405.30 C193.38,405.25 226.67,404.90 260.00,404.70" fill="none" stroke="#77ac30" stroke-width="2.1" stroke-linecap="butt" stroke-linejoin="round"/>
<path d="M59.50,384.50 C93.00,385.00 126.54,385.80 160.00,386.00 C193.37,386.20 226.67,385.80 260.00,385.70" fill="none" stroke="#a43cf0" stroke-width="2.1" stroke-linecap="butt" stroke-linejoin="round"/>
<path d="M59.50,353.90 C76.33,353.47 93.21,352.48 110.00,352.60 C126.71,352.72 140.47,354.14 160.00,354.60 C187.61,355.25 226.67,355.07 260.00,355.30" fill="none" stroke="#edb120" stroke-width="2.1" stroke-linecap="butt" stroke-linejoin="round"/>
<path d="M59.0,355.5 L59.5,359.5" fill="none" stroke="#00ff00" stroke-width="2.1" stroke-linecap="round" stroke-linejoin="round"/>
<path d="M59.50,364.30 C61.00,370.20 62.05,376.76 64.00,382.00 C65.67,386.49 67.80,391.34 70.00,394.00 C71.45,395.74 73.18,397.49 74.60,397.50 C75.81,397.51 77.21,395.99 78.00,395.00 C78.70,394.12 78.87,393.00 79.30,392.00" fill="none" stroke="#a2142f" stroke-width="2.1" stroke-linecap="butt" stroke-linejoin="round"/>
<path d="M59.50,395.20 C61.67,397.47 63.55,400.27 66.00,402.00 C68.34,403.65 70.40,404.60 73.80,405.50 C79.47,407.00 90.39,407.10 97.50,407.80 C103.33,408.38 108.76,408.97 113.40,409.40 C117.00,409.73 121.10,410.61 123.00,410.20 C123.88,410.01 124.32,409.99 124.80,409.20 C126.43,406.49 125.10,393.81 125.30,385.00 C125.55,374.41 125.63,362.10 126.20,350.00 C126.82,336.94 128.07,322.87 129.00,309.30" fill="none" stroke="#0000ff" stroke-width="2.1" stroke-linecap="butt" stroke-linejoin="round"/>
<path d="M59.50,405.50 C63.00,407.17 66.34,409.19 70.00,410.50 C73.73,411.84 78.17,413.66 81.70,413.40 C84.74,413.18 87.65,411.78 90.00,410.00 C92.45,408.14 94.00,404.87 96.00,402.30" fill="none" stroke="#000000" stroke-width="2.1" stroke-linecap="butt" stroke-linejoin="round"/>
<path d="M59.50,411.80 C61.67,412.70 63.59,413.84 66.00,414.50 C68.80,415.26 72.30,416.17 75.40,415.80 C78.63,415.41 82.32,414.17 85.00,412.00 C87.97,409.60 89.67,405.00 92.00,401.50" fill="none" stroke="#ff00ff" stroke-width="2.1" stroke-linecap="butt" stroke-linejoin="round"/>
<path d="M74.10,289.80 C74.53,297.53 74.80,304.32 75.40,313.00 C76.16,324.12 77.16,340.22 78.50,351.00 C79.50,359.05 80.42,365.64 82.00,372.00 C83.36,377.48 84.96,383.14 87.00,387.00 C88.47,389.80 90.51,393.33 92.00,393.60 C92.89,393.76 93.86,392.86 94.50,392.00 C95.38,390.80 95.50,388.33 96.00,386.50" fill="none" stroke="#ff0000" stroke-width="2.1" stroke-linecap="butt" stroke-linejoin="round"/>
<path d="M77.30,289.50 C77.87,297.33 78.18,304.29 79.00,313.00 C80.03,323.95 81.51,339.44 83.30,350.00 C84.66,358.03 85.83,363.78 88.00,371.00 C90.42,379.05 92.81,390.90 97.50,396.00 C100.88,399.67 105.22,400.57 110.00,402.00 C115.77,403.73 123.19,403.88 130.00,404.70 C137.08,405.55 146.20,407.36 151.70,407.00 C155.14,406.77 157.97,406.37 160.00,405.00 C161.73,403.84 162.40,401.67 163.60,400.00" fill="none" stroke="#00ffff" stroke-width="2.1" stroke-linecap="butt" stroke-linejoin="round"/>
<path d="M82.80,289.80 C83.37,297.53 83.68,304.38 84.50,313.00 C85.53,323.91 86.78,339.93 88.80,350.00 C90.24,357.14 91.81,362.04 94.00,368.00 C96.28,374.20 98.57,381.96 102.30,386.50 C105.35,390.22 109.13,392.36 113.40,394.40 C118.21,396.69 124.06,397.73 130.00,399.00 C136.71,400.43 145.55,402.42 151.70,402.30 C156.27,402.21 159.63,400.77 163.60,400.00" fill="none" stroke="#00ff00" stroke-width="2.1" stroke-linecap="butt" stroke-linejoin="round"/>
<path d="M125.80,288.70 C125.70,302.47 125.76,317.33 125.50,330.00 C125.28,340.80 125.00,351.21 124.50,360.00 C124.10,366.91 124.00,372.46 123.00,378.50 C122.02,384.46 120.35,390.70 118.60,396.00 C117.08,400.60 115.13,404.40 113.40,408.60" fill="none" stroke="#a0a0a0" stroke-width="2.1" stroke-linecap="butt" stroke-linejoin="round"/>
<path d="M111.60,288.70 C112.40,299.13 112.92,309.69 114.00,320.00 C115.06,330.12 116.29,341.05 118.00,350.00 C119.41,357.38 120.87,363.82 123.00,370.00 C124.95,375.64 126.92,381.39 130.00,385.70 C132.74,389.54 136.33,392.48 140.00,395.00 C143.58,397.46 147.14,399.17 151.70,400.70 C157.50,402.64 165.16,403.89 172.30,404.70 C179.89,405.56 189.99,405.90 196.00,405.50 C199.73,405.25 202.00,404.50 205.00,404.00" fill="none" stroke="#ff00ff" stroke-width="2.1" stroke-linecap="butt" stroke-linejoin="round"/>
<path d="M117.60,288.70 C118.73,299.13 119.67,309.69 121.00,320.00 C122.31,330.12 123.77,341.31 125.50,350.00 C126.86,356.80 128.15,362.47 130.00,368.00 C131.65,372.95 132.67,377.57 135.80,381.70 C139.46,386.53 146.09,391.63 151.70,394.40 C156.72,396.87 161.98,396.94 167.50,398.30 C173.56,399.79 181.08,402.90 186.60,403.00 C190.79,403.08 194.00,401.47 197.70,400.70" fill="none" stroke="#000000" stroke-width="2.1" stroke-linecap="butt" stroke-linejoin="round"/>
<path d="M144.50,288.70 C145.67,299.13 146.65,309.69 148.00,320.00 C149.32,330.12 150.54,341.33 152.50,350.00 C154.05,356.83 155.59,362.07 158.00,368.00 C160.53,374.24 163.15,381.54 167.50,386.50 C171.70,391.29 178.41,394.61 183.40,397.50 C187.47,399.85 190.79,401.61 195.00,403.00 C199.59,404.52 205.29,405.33 210.00,406.00 C214.12,406.59 217.80,406.67 221.70,407.00" fill="none" stroke="#a0a0a0" stroke-width="2.1" stroke-linecap="butt" stroke-linejoin="round"/>
<path d="M150.00,288.70 C151.33,299.13 152.65,309.68 154.00,320.00 C155.32,330.11 156.08,341.08 158.00,350.00 C159.60,357.41 161.44,363.95 164.00,370.00 C166.31,375.47 168.62,380.61 172.30,384.90 C176.09,389.32 181.63,393.81 186.60,396.00 C190.91,397.90 196.53,397.08 200.00,398.30 C202.42,399.15 203.30,400.58 205.80,401.50 C209.71,402.93 217.59,404.52 221.70,404.70 C224.27,404.81 226.15,404.79 228.00,404.00 C229.84,403.22 231.20,401.33 232.80,400.00" fill="none" stroke="#0000ff" stroke-width="2.1" stroke-linecap="butt" stroke-linejoin="round"/>
<path d="M168.60,288.70 C169.40,299.13 170.38,309.67 171.00,320.00 C171.61,330.10 171.33,340.80 172.30,350.00 C173.14,357.93 174.40,365.30 176.00,372.00 C177.39,377.81 178.94,384.59 181.00,388.00 C182.20,389.98 183.76,392.00 185.00,392.00 C186.07,392.00 187.23,390.23 188.00,389.00 C188.86,387.62 189.13,385.67 189.70,384.00" fill="none" stroke="#a2142f" stroke-width="2.1" stroke-linecap="butt" stroke-linejoin="round"/>
<path d="M181.30,289.50 C182.20,299.67 182.97,309.53 184.00,320.00 C185.09,331.15 186.08,345.21 187.70,354.50 C188.82,360.92 189.95,365.18 191.60,370.60 C193.34,376.34 195.37,383.01 198.00,388.00 C200.24,392.26 201.80,396.29 205.80,399.00 C211.19,402.64 221.14,403.59 229.60,404.70 C238.98,405.93 249.67,405.23 259.70,405.50" fill="none" stroke="#00ffff" stroke-width="2.1" stroke-linecap="butt" stroke-linejoin="round"/>
<path d="M184.80,289.50 C185.37,299.67 185.83,309.15 186.50,320.00 C187.27,332.43 187.79,348.99 189.20,360.00 C190.21,367.85 191.40,373.86 193.00,380.00 C194.41,385.41 195.76,391.06 198.00,395.00 C199.75,398.08 202.18,401.87 204.30,402.30 C205.86,402.62 207.75,401.30 209.00,400.00 C210.54,398.40 211.13,395.20 212.20,392.80" fill="none" stroke="#ff0000" stroke-width="2.1" stroke-linecap="butt" stroke-linejoin="round"/>
<path d="M186.70,289.30 C187.80,301.20 188.70,314.17 190.00,325.00 C191.09,334.09 192.37,342.75 193.70,350.00 C194.74,355.66 195.58,359.91 197.00,365.00 C198.53,370.46 199.80,376.87 202.70,381.70 C205.48,386.34 209.11,390.84 213.80,393.60 C218.94,396.62 225.90,396.72 232.80,398.30 C240.97,400.18 250.73,402.10 259.70,404.00" fill="none" stroke="#00ff00" stroke-width="2.1" stroke-linecap="butt" stroke-linejoin="round"/>
<path d="M208.90,289.30 C209.60,296.20 210.20,302.78 211.00,310.00 C211.88,317.94 212.62,327.91 214.00,335.00 C215.05,340.38 216.08,348.53 217.80,349.00 C218.78,349.27 220.07,346.80 221.20,345.70" fill="none" stroke="#a2142f" stroke-width="2.1" stroke-linecap="butt" stroke-linejoin="round"/>
<path d="M215.00,289.30 C216.00,299.53 216.88,309.83 218.00,320.00 C219.11,330.06 219.97,341.06 221.70,350.00 C223.13,357.39 224.84,363.58 227.00,370.00 C229.10,376.23 230.97,383.26 234.40,388.00 C237.37,392.11 241.30,395.25 245.50,397.50 C249.72,399.76 254.97,400.17 259.70,401.50" fill="none" stroke="#ff00ff" stroke-width="2.1" stroke-linecap="butt" stroke-linejoin="round"/>
<path d="M221.70,290.10 C222.80,300.07 223.82,310.03 225.00,320.00 C226.18,330.00 227.01,341.33 228.80,350.00 C230.21,356.82 231.88,362.49 234.00,368.00 C235.92,372.97 237.17,377.55 240.70,381.70 C245.06,386.83 253.37,390.70 259.70,395.20" fill="none" stroke="#000000" stroke-width="2.1" stroke-linecap="butt" stroke-linejoin="round"/>
<path d="M248.60,289.30 C249.73,299.53 250.66,309.84 252.00,320.00 C253.33,330.07 255.13,341.60 256.60,350.00 C257.67,356.12 258.67,360.53 259.70,365.80" fill="none" stroke="#a0a0a0" stroke-width="2.1" stroke-linecap="butt" stroke-linejoin="round"/>
<path d="M253.70,289.30 C254.80,298.87 255.84,308.77 257.00,318.00 C258.08,326.63 259.27,334.67 260.40,343.00" fill="none" stroke="#0000ff" stroke-width="2.1" stroke-linecap="butt" stroke-linejoin="round"/>
<path d="M70.60,288.20 C71.23,296.47 71.74,304.99 72.50,313.00 C73.22,320.56 74.13,328.26 75.00,335.00 C75.74,340.76 76.26,346.62 77.30,351.00 C78.05,354.17 79.03,357.28 80.00,359.00 C80.54,359.96 81.16,361.04 81.70,361.00 C82.33,360.95 83.03,359.03 83.50,358.00 C83.95,357.02 84.17,356.00 84.50,355.00" fill="none" stroke="#ffff00" stroke-width="2.1" stroke-linecap="butt" stroke-linejoin="round"/>
<path d="M147.70,288.70 C148.47,295.80 149.16,302.82 150.00,310.00 C150.86,317.35 151.06,328.74 152.80,332.30 C153.48,333.68 154.47,334.80 155.20,334.70 C156.06,334.59 156.73,332.03 157.50,330.70" fill="none" stroke="#ffff00" stroke-width="2.1" stroke-linecap="butt" stroke-linejoin="round"/>
<path d="M178.5,290.3 L178.5,312.5" fill="none" stroke="#ffff00" stroke-width="2.1" stroke-linecap="round" stroke-linejoin="round"/>
<path d="M182.60,395.20 C183.23,396.80 183.83,398.42 184.50,400.00 C185.17,401.58 185.90,403.13 186.60,404.70" fill="none" stroke="#ffff00" stroke-width="2.1" stroke-linecap="butt" stroke-linejoin="round"/>
<path d="M191.30,414.20 C192.53,412.13 193.82,410.39 195.00,408.00 C196.48,405.01 198.31,401.29 199.20,397.50 C200.18,393.35 199.93,388.50 200.30,384.00" fill="none" stroke="#ffff00" stroke-width="2.1" stroke-linecap="butt" stroke-linejoin="round"/>
<rect x="52" y="275.2" width="217.5" height="151.7" fill="none" stroke="#727272" stroke-width="1.3"/>
<line x1="52.0" y1="426.9" x2="52.0" y2="424.9" stroke="#727272" stroke-width="1"/>
<line x1="52.0" y1="275.2" x2="52.0" y2="277.2" stroke="#727272" stroke-width="1"/>
<line x1="124.5" y1="426.9" x2="124.5" y2="424.9" stroke="#727272" stroke-width="1"/>
<line x1="124.5" y1="275.2" x2="124.5" y2="277.2" stroke="#727272" stroke-width="1"/>
<line x1="197.0" y1="426.9" x2="197.0" y2="424.9" stroke="#727272" stroke-width="1"/>
<line x1="197.0" y1="275.2" x2="197.0" y2="277.2" stroke="#727272" stroke-width="1"/>
<line x1="269.5" y1="426.9" x2="269.5" y2="424.9" stroke="#727272" stroke-width="1"/>
<line x1="269.5" y1="275.2" x2="269.5" y2="277.2" stroke="#727272" stroke-width="1"/>
<line x1="52" y1="275.2" x2="54.0" y2="275.2" stroke="#727272" stroke-width="1"/>
<line x1="269.5" y1="275.2" x2="267.5" y2="275.2" stroke="#727272" stroke-width="1"/>
<line x1="52" y1="313.125" x2="54.0" y2="313.125" stroke="#727272" stroke-width="1"/>
<line x1="269.5" y1="313.125" x2="267.5" y2="313.125" stroke="#727272" stroke-width="1"/>
<line x1="52" y1="351.04999999999995" x2="54.0" y2="351.04999999999995" stroke="#727272" stroke-width="1"/>
<line x1="269.5" y1="351.04999999999995" x2="267.5" y2="351.04999999999995" stroke="#727272" stroke-width="1"/>
<line x1="52" y1="388.97499999999997" x2="54.0" y2="388.97499999999997" stroke="#727272" stroke-width="1"/>
<line x1="269.5" y1="388.97499999999997" x2="267.5" y2="388.97499999999997" stroke="#727272" stroke-width="1"/>
<line x1="52" y1="426.9" x2="54.0" y2="426.9" stroke="#727272" stroke-width="1"/>
<line x1="269.5" y1="426.9" x2="267.5" y2="426.9" stroke="#727272" stroke-width="1"/>
<text x="52.0" y="441.9" font-family="'Liberation Sans', sans-serif" font-size="11.4" font-weight="normal" fill="#262626" text-anchor="middle">0</text>
<text x="124.5" y="441.9" font-family="'Liberation Sans', sans-serif" font-size="11.4" font-weight="normal" fill="#262626" text-anchor="middle">2000</text>
<text x="197.0" y="441.9" font-family="'Liberation Sans', sans-serif" font-size="11.4" font-weight="normal" fill="#262626" text-anchor="middle">4000</text>
<text x="269.5" y="441.9" font-family="'Liberation Sans', sans-serif" font-size="11.4" font-weight="normal" fill="#262626" text-anchor="middle">6000</text>
<text x="48.5" y="280.1" font-family="'Liberation Sans', sans-serif" font-size="11.4" font-weight="normal" fill="#262626" text-anchor="end">800</text>
<text x="48.5" y="318.02" font-family="'Liberation Sans', sans-serif" font-size="11.4" font-weight="normal" fill="#262626" text-anchor="end">750</text>
<text x="48.5" y="355.95" font-family="'Liberation Sans', sans-serif" font-size="11.4" font-weight="normal" fill="#262626" text-anchor="end">700</text>
<text x="48.5" y="393.87" font-family="'Liberation Sans', sans-serif" font-size="11.4" font-weight="normal" fill="#262626" text-anchor="end">650</text>
<text x="48.5" y="431.8" font-family="'Liberation Sans', sans-serif" font-size="11.4" font-weight="normal" fill="#262626" text-anchor="end">600</text>
<text x="24.2" y="350.6" font-family="'Liberation Sans', sans-serif" font-size="12" font-weight="normal" fill="#262626" text-anchor="middle" transform="rotate(-90 24.2 350.6)">MDE (mm/km)</text>
<text x="160.7" y="458" font-family="'Liberation Sans', sans-serif" font-size="12" font-weight="normal" fill="#262626" text-anchor="middle">epoch</text>
<line x1="373.90000000000003" y1="275.2" x2="373.90000000000003" y2="426.9" stroke="#f0f0f0" stroke-width="1"/>
<line x1="446.30000000000007" y1="275.2" x2="446.30000000000007" y2="426.9" stroke="#f0f0f0" stroke-width="1"/>
<line x1="301.5" y1="313.125" x2="518.7" y2="313.125" stroke="#f0f0f0" stroke-width="1"/>
<line x1="301.5" y1="351.04999999999995" x2="518.7" y2="351.04999999999995" stroke="#f0f0f0" stroke-width="1"/>
<line x1="301.5" y1="388.97499999999997" x2="518.7" y2="388.97499999999997" stroke="#f0f0f0" stroke-width="1"/>
<path d="M307.10,419.20 C338.07,419.27 367.75,419.37 400.00,419.40 C435.05,419.44 473.13,419.40 509.70,419.40" fill="none" stroke="#0072bd" stroke-width="2.1" stroke-linecap="butt" stroke-linejoin="round"/>
<path d="M307.10,410.50 C338.07,410.43 367.75,410.35 400.00,410.30 C435.05,410.25 473.13,410.23 509.70,410.20" fill="none" stroke="#a2142f" stroke-width="2.1" stroke-linecap="butt" stroke-linejoin="round"/>
<path d="M307.10,391.80 C338.07,392.13 367.75,392.63 400.00,392.80 C435.05,392.99 473.13,392.80 509.70,392.80" fill="none" stroke="#a43cf0" stroke-width="2.1" stroke-linecap="butt" stroke-linejoin="round"/>
<path d="M307.10,364.50 C318.07,363.67 327.39,362.21 340.00,362.00 C357.01,361.72 377.00,364.06 400.00,364.60 C431.09,365.33 473.13,364.87 509.70,365.00" fill="none" stroke="#edb120" stroke-width="2.1" stroke-linecap="butt" stroke-linejoin="round"/>
<path d="M307.10,362.90 C308.73,370.27 309.92,378.55 312.00,385.00 C313.70,390.29 315.58,395.66 318.00,399.00 C319.72,401.38 322.11,403.98 323.80,404.10 C324.99,404.18 326.22,402.93 327.00,402.00 C327.77,401.09 328.00,399.73 328.50,398.60" fill="none" stroke="#77ac30" stroke-width="2.1" stroke-linecap="butt" stroke-linejoin="round"/>
<path d="M309.50,366.00 C309.00,368.33 308.40,370.69 308.00,373.00 C307.61,375.22 307.40,377.40 307.10,379.60" fill="none" stroke="#ff00ff" stroke-width="2.1" stroke-linecap="butt" stroke-linejoin="round"/>
<path d="M307.10,397.80 C309.40,400.37 311.27,403.40 314.00,405.50 C316.81,407.66 319.68,409.30 323.80,410.50 C329.86,412.27 339.59,412.02 347.50,412.80 C355.43,413.58 367.50,415.62 371.30,415.20 C372.54,415.06 373.11,415.18 373.70,414.40 C375.10,412.53 374.03,405.09 374.30,400.00 C374.61,394.26 375.10,388.63 375.50,381.70 C376.03,372.58 376.58,360.04 377.10,350.00 C377.57,340.90 378.03,332.67 378.50,324.00" fill="none" stroke="#0000ff" stroke-width="2.1" stroke-linecap="butt" stroke-linejoin="round"/>
<path d="M307.10,410.20 C310.73,411.80 314.10,413.67 318.00,415.00 C322.25,416.45 327.78,418.88 331.70,418.40 C334.90,418.01 337.69,415.84 340.00,414.00 C342.12,412.31 343.47,410.00 345.20,408.00" fill="none" stroke="#000000" stroke-width="2.1" stroke-linecap="butt" stroke-linejoin="round"/>
<path d="M307.10,415.20 C309.40,416.13 311.46,417.23 314.00,418.00 C316.94,418.89 320.64,420.33 323.80,420.00 C326.97,419.67 330.20,417.97 333.00,416.00 C336.05,413.85 338.47,410.20 341.20,407.30" fill="none" stroke="#ff5a1a" stroke-width="2.1" stroke-linecap="butt" stroke-linejoin="round"/>
<path d="M323.50,305.80 C324.17,315.53 324.72,324.83 325.50,335.00 C326.36,346.14 326.75,360.84 328.50,370.00 C329.67,376.12 331.33,380.32 333.00,385.00 C334.52,389.26 336.24,394.38 338.00,397.00 C339.04,398.55 340.14,400.14 341.20,400.20 C342.14,400.26 343.24,399.01 344.00,398.00 C344.93,396.76 345.33,394.67 346.00,393.00" fill="none" stroke="#ff0000" stroke-width="2.1" stroke-linecap="butt" stroke-linejoin="round"/>
<path d="M326.60,305.80 C327.73,317.20 328.56,329.00 330.00,340.00 C331.36,350.35 332.93,361.46 334.90,370.00 C336.40,376.52 337.82,381.71 340.00,387.00 C342.07,392.00 343.95,397.82 347.50,401.00 C350.77,403.93 355.27,404.63 360.00,406.00 C365.81,407.68 373.17,408.87 380.00,409.70 C387.06,410.56 395.80,410.82 401.70,411.00 C405.76,411.12 408.57,411.00 412.00,411.00" fill="none" stroke="#00ffff" stroke-width="2.1" stroke-linecap="butt" stroke-linejoin="round"/>
<path d="M331.70,305.80 C333.13,317.20 334.35,328.99 336.00,340.00 C337.55,350.35 339.18,361.77 341.20,370.00 C342.65,375.92 343.73,381.22 346.00,385.00 C347.72,387.87 349.67,389.42 352.30,391.50 C355.66,394.15 360.50,396.79 365.00,399.00 C369.71,401.32 374.64,403.67 380.00,405.00 C385.75,406.43 392.73,406.99 398.50,407.00 C403.57,407.01 408.03,406.00 412.80,405.50" fill="none" stroke="#ff00ff" stroke-width="2.1" stroke-linecap="butt" stroke-linejoin="round"/>
<path d="M375.30,305.00 C375.03,316.67 374.84,327.13 374.50,340.00 C374.08,355.84 375.39,382.09 372.90,393.00 C371.71,398.20 369.66,400.56 368.00,404.00 C366.49,407.12 364.93,409.87 363.40,412.80" fill="none" stroke="#a0a0a0" stroke-width="2.1" stroke-linecap="butt" stroke-linejoin="round"/>
<path d="M360.20,305.00 C361.47,316.67 362.33,328.81 364.00,340.00 C365.55,350.42 367.70,361.93 369.70,370.00 C371.09,375.59 372.16,379.98 374.00,384.00 C375.55,387.39 377.08,390.11 379.50,392.80 C382.24,395.85 386.26,398.74 390.00,401.00 C393.67,403.22 397.27,404.87 401.70,406.30 C407.04,408.02 414.03,409.07 420.00,410.00 C425.65,410.88 431.37,411.87 436.60,411.80 C441.31,411.74 445.53,410.60 450.00,410.00" fill="none" stroke="#ff5a1a" stroke-width="2.1" stroke-linecap="butt" stroke-linejoin="round"/>
<path d="M367.40,305.00 C368.60,316.67 369.33,328.82 371.00,340.00 C372.56,350.42 375.29,362.32 376.90,370.00 C377.91,374.81 377.99,378.05 379.50,381.70 C381.02,385.38 383.07,389.05 386.00,392.00 C389.24,395.26 393.69,398.05 398.50,400.00 C404.00,402.23 411.34,402.30 417.50,403.90 C423.49,405.45 429.80,408.98 435.00,409.40 C439.05,409.72 442.33,408.33 446.00,407.80" fill="none" stroke="#000000" stroke-width="2.1" stroke-linecap="butt" stroke-linejoin="round"/>
<path d="M393.70,305.00 C395.13,316.67 396.29,328.81 398.00,340.00 C399.59,350.41 401.67,362.29 403.50,370.00 C404.67,374.94 405.36,378.37 407.00,382.00 C408.53,385.39 410.57,388.49 412.80,391.20 C414.93,393.79 417.32,395.76 420.00,398.00 C423.04,400.53 426.27,403.68 430.20,405.50 C434.50,407.49 440.02,408.25 445.00,409.00 C449.95,409.75 455.01,410.16 460.00,410.00 C465.01,409.83 470.00,408.67 475.00,408.00" fill="none" stroke="#a0a0a0" stroke-width="2.1" stroke-linecap="butt" stroke-linejoin="round"/>
<path d="M399.60,305.00 C401.07,316.67 402.20,328.81 404.00,340.00 C405.68,350.42 408.06,362.71 409.90,370.00 C410.98,374.26 411.60,377.12 413.00,380.00 C414.22,382.51 415.35,384.06 417.50,386.50 C421.04,390.50 427.88,397.68 433.40,400.70 C438.01,403.22 442.80,403.30 447.70,404.70 C452.91,406.19 458.89,408.52 463.80,409.40 C467.80,410.12 472.14,410.65 474.90,410.20 C476.64,409.92 477.81,409.30 479.00,408.50 C480.17,407.72 481.00,406.50 482.00,405.50" fill="none" stroke="#0000ff" stroke-width="2.1" stroke-linecap="butt" stroke-linejoin="round"/>
<path d="M417.80,305.00 C418.53,315.00 419.25,324.61 420.00,335.00 C420.81,346.22 420.95,360.31 422.50,370.00 C423.62,377.05 424.72,383.00 427.00,388.00 C428.87,392.11 432.09,397.92 434.20,398.30 C435.39,398.51 436.60,397.00 437.50,396.00 C438.46,394.93 438.97,393.33 439.70,392.00" fill="none" stroke="#77ac30" stroke-width="2.1" stroke-linecap="butt" stroke-linejoin="round"/>
<path d="M430.50,305.00 C431.50,316.67 432.26,328.80 433.50,340.00 C434.66,350.40 436.06,363.53 437.60,370.00 C438.36,373.20 438.99,374.21 440.00,377.00 C441.52,381.22 443.52,388.60 446.00,392.80 C447.94,396.09 449.53,398.38 452.70,400.70 C457.17,403.96 464.10,406.83 471.70,408.60 C482.03,411.00 497.03,410.20 509.70,411.00" fill="none" stroke="#00ffff" stroke-width="2.1" stroke-linecap="butt" stroke-linejoin="round"/>
<path d="M434.90,305.00 C435.60,316.67 436.25,328.79 437.00,340.00 C437.69,350.39 437.87,361.76 439.20,370.00 C440.16,375.91 441.43,379.75 443.00,385.00 C444.78,390.97 446.88,400.15 449.50,403.90 C450.96,405.99 452.79,407.77 454.30,407.80 C455.60,407.82 456.88,406.18 458.00,405.00 C459.28,403.65 460.27,401.67 461.40,400.00" fill="none" stroke="#ff0000" stroke-width="2.1" stroke-linecap="butt" stroke-linejoin="round"/>
<path d="M436.00,305.00 C437.33,316.67 438.48,328.80 440.00,340.00 C441.41,350.40 442.58,362.40 444.70,370.00 C446.07,374.90 447.03,377.65 449.50,381.70 C452.76,387.04 457.74,394.47 463.80,398.50 C470.24,402.77 479.66,404.15 487.50,406.00 C494.95,407.76 502.30,408.33 509.70,409.50" fill="none" stroke="#ff00ff" stroke-width="2.1" stroke-linecap="butt" stroke-linejoin="round"/>
<path d="M458.50,305.00 C459.33,313.33 459.92,322.15 461.00,330.00 C461.97,337.06 463.23,344.97 464.50,350.00 C465.29,353.14 465.99,355.87 467.00,357.50 C467.60,358.48 468.31,359.45 469.00,359.50 C469.65,359.55 470.51,358.68 471.00,358.00 C471.55,357.23 471.67,356.00 472.00,355.00" fill="none" stroke="#77ac30" stroke-width="2.1" stroke-linecap="butt" stroke-linejoin="round"/>
<path d="M464.00,305.00 C465.77,320.00 467.00,337.72 469.30,350.00 C470.93,358.70 472.62,365.17 475.00,372.00 C477.19,378.29 479.34,384.51 482.80,389.60 C486.09,394.44 490.38,398.94 495.00,402.00 C499.40,404.91 504.80,405.87 509.70,407.80" fill="none" stroke="#ff5a1a" stroke-width="2.1" stroke-linecap="butt" stroke-linejoin="round"/>
<path d="M471.10,305.00 C472.87,320.00 474.33,338.04 476.40,350.00 C477.79,358.05 478.99,363.91 481.00,370.00 C482.79,375.42 484.68,380.62 487.50,384.90 C490.11,388.85 493.33,392.24 497.00,395.00 C500.72,397.80 505.47,399.33 509.70,401.50" fill="none" stroke="#000000" stroke-width="2.1" stroke-linecap="butt" stroke-linejoin="round"/>
<path d="M498.10,305.00 C499.87,320.00 501.04,337.31 503.40,350.00 C505.17,359.50 507.60,366.40 509.70,374.60" fill="none" stroke="#a0a0a0" stroke-width="2.1" stroke-linecap="butt" stroke-linejoin="round"/>
<path d="M503.30,305.00 C504.37,313.33 505.37,321.74 506.50,330.00 C507.61,338.14 508.83,346.13 510.00,354.20" fill="none" stroke="#0000ff" stroke-width="2.1" stroke-linecap="butt" stroke-linejoin="round"/>
<path d="M320.10,305.00 C321.07,315.00 321.73,325.06 323.00,335.00 C324.27,344.89 325.30,358.72 327.70,364.50 C328.84,367.26 330.59,370.06 331.70,370.00 C332.62,369.95 333.23,367.33 334.00,366.00" fill="none" stroke="#ffff00" stroke-width="2.1" stroke-linecap="butt" stroke-linejoin="round"/>
<path d="M397.20,305.00 C398.13,312.67 398.70,320.89 400.00,328.00 C401.15,334.27 402.69,345.17 404.30,345.50 C405.06,345.66 405.90,343.37 406.70,342.30" fill="none" stroke="#ffff00" stroke-width="2.1" stroke-linecap="butt" stroke-linejoin="round"/>
<path d="M428.1,305.8 L428.1,326.5" fill="none" stroke="#ffff00" stroke-width="2.1" stroke-linecap="round" stroke-linejoin="round"/>
<path d="M432.6,402.3 L435.0,410.2" fill="none" stroke="#ffff00" stroke-width="2.1" stroke-linecap="round" stroke-linejoin="round"/>
<path d="M440.50,419.00 C442.00,416.00 443.60,413.63 445.00,410.00 C446.95,404.95 448.53,397.47 450.30,391.20" fill="none" stroke="#ffff00" stroke-width="2.1" stroke-linecap="butt" stroke-linejoin="round"/>
<rect x="301.5" y="275.2" width="217.20000000000005" height="151.7" fill="none" stroke="#727272" stroke-width="1.3"/>
<line x1="301.5" y1="426.9" x2="301.5" y2="424.9" stroke="#727272" stroke-width="1"/>
<line x1="301.5" y1="275.2" x2="301.5" y2="277.2" stroke="#727272" stroke-width="1"/>
<line x1="373.90000000000003" y1="426.9" x2="373.90000000000003" y2="424.9" stroke="#727272" stroke-width="1"/>
<line x1="373.90000000000003" y1="275.2" x2="373.90000000000003" y2="277.2" stroke="#727272" stroke-width="1"/>
<line x1="446.30000000000007" y1="426.9" x2="446.30000000000007" y2="424.9" stroke="#727272" stroke-width="1"/>
<line x1="446.30000000000007" y1="275.2" x2="446.30000000000007" y2="277.2" stroke="#727272" stroke-width="1"/>
<line x1="518.7" y1="426.9" x2="518.7" y2="424.9" stroke="#727272" stroke-width="1"/>
<line x1="518.7" y1="275.2" x2="518.7" y2="277.2" stroke="#727272" stroke-width="1"/>
<line x1="301.5" y1="275.2" x2="303.5" y2="275.2" stroke="#727272" stroke-width="1"/>
<line x1="518.7" y1="275.2" x2="516.7" y2="275.2" stroke="#727272" stroke-width="1"/>
<line x1="301.5" y1="313.125" x2="303.5" y2="313.125" stroke="#727272" stroke-width="1"/>
<line x1="518.7" y1="313.125" x2="516.7" y2="313.125" stroke="#727272" stroke-width="1"/>
<line x1="301.5" y1="351.04999999999995" x2="303.5" y2="351.04999999999995" stroke="#727272" stroke-width="1"/>
<line x1="518.7" y1="351.04999999999995" x2="516.7" y2="351.04999999999995" stroke="#727272" stroke-width="1"/>
<line x1="301.5" y1="388.97499999999997" x2="303.5" y2="388.97499999999997" stroke="#727272" stroke-width="1"/>
<line x1="518.7" y1="388.97499999999997" x2="516.7" y2="388.97499999999997" stroke="#727272" stroke-width="1"/>
<line x1="301.5" y1="426.9" x2="303.5" y2="426.9" stroke="#727272" stroke-width="1"/>
<line x1="518.7" y1="426.9" x2="516.7" y2="426.9" stroke="#727272" stroke-width="1"/>
<text x="301.5" y="441.9" font-family="'Liberation Sans', sans-serif" font-size="11.4" font-weight="normal" fill="#262626" text-anchor="middle">0</text>
<text x="373.9" y="441.9" font-family="'Liberation Sans', sans-serif" font-size="11.4" font-weight="normal" fill="#262626" text-anchor="middle">2000</text>
<text x="446.3" y="441.9" font-family="'Liberation Sans', sans-serif" font-size="11.4" font-weight="normal" fill="#262626" text-anchor="middle">4000</text>
<text x="518.7" y="441.9" font-family="'Liberation Sans', sans-serif" font-size="11.4" font-weight="normal" fill="#262626" text-anchor="middle">6000</text>
<text x="298" y="280.1" font-family="'Liberation Sans', sans-serif" font-size="11.4" font-weight="normal" fill="#262626" text-anchor="end">200</text>
<text x="298" y="318.02" font-family="'Liberation Sans', sans-serif" font-size="11.4" font-weight="normal" fill="#262626" text-anchor="end">180</text>
<text x="298" y="355.95" font-family="'Liberation Sans', sans-serif" font-size="11.4" font-weight="normal" fill="#262626" text-anchor="end">150</text>
<text x="298" y="393.87" font-family="'Liberation Sans', sans-serif" font-size="11.4" font-weight="normal" fill="#262626" text-anchor="end">125</text>
<text x="298" y="431.8" font-family="'Liberation Sans', sans-serif" font-size="11.4" font-weight="normal" fill="#262626" text-anchor="end">100</text>
<text x="410.1" y="458" font-family="'Liberation Sans', sans-serif" font-size="12" font-weight="normal" fill="#262626" text-anchor="middle">epoch</text>
<text x="157.25" y="232.3" font-family="'Liberation Serif', serif" font-size="13.3" font-weight="bold" fill="#222222" text-anchor="middle" textLength="156.7" lengthAdjust="spacingAndGlyphs">Test statistics of traditional</text>
<text x="156.75" y="247.6" font-family="'Liberation Serif', serif" font-size="13.3" font-weight="bold" fill="#222222" text-anchor="middle" textLength="177.5" lengthAdjust="spacingAndGlyphs">single-frequency IGM method</text>
<text x="407.6" y="232.3" font-family="'Liberation Serif', serif" font-size="13.3" font-weight="bold" fill="#222222" text-anchor="middle" textLength="149.8" lengthAdjust="spacingAndGlyphs">Test statistics of proposed</text>
<text x="407.65" y="247.6" font-family="'Liberation Serif', serif" font-size="13.3" font-weight="bold" fill="#222222" text-anchor="middle" textLength="166.5" lengthAdjust="spacingAndGlyphs">dual-frequency IGM method</text>
<text x="156.35" y="479.5" font-family="'Liberation Serif', serif" font-size="13.3" font-weight="bold" fill="#222222" text-anchor="middle" textLength="132.3" lengthAdjust="spacingAndGlyphs">MDE of the traditional</text>
<text x="156.0" y="494.4" font-family="'Liberation Serif', serif" font-size="13.3" font-weight="bold" fill="#222222" text-anchor="middle" textLength="177.4" lengthAdjust="spacingAndGlyphs">single-frequency IGM method</text>
<text x="407.8" y="479.5" font-family="'Liberation Serif', serif" font-size="13.3" font-weight="bold" fill="#222222" text-anchor="middle" textLength="124.4" lengthAdjust="spacingAndGlyphs">MDE of the proposed</text>
<text x="407.8" y="494.4" font-family="'Liberation Serif', serif" font-size="13.3" font-weight="bold" fill="#222222" text-anchor="middle" textLength="168.0" lengthAdjust="spacingAndGlyphs">dual-frequency IGM method</text>
</svg>
</body></html>
